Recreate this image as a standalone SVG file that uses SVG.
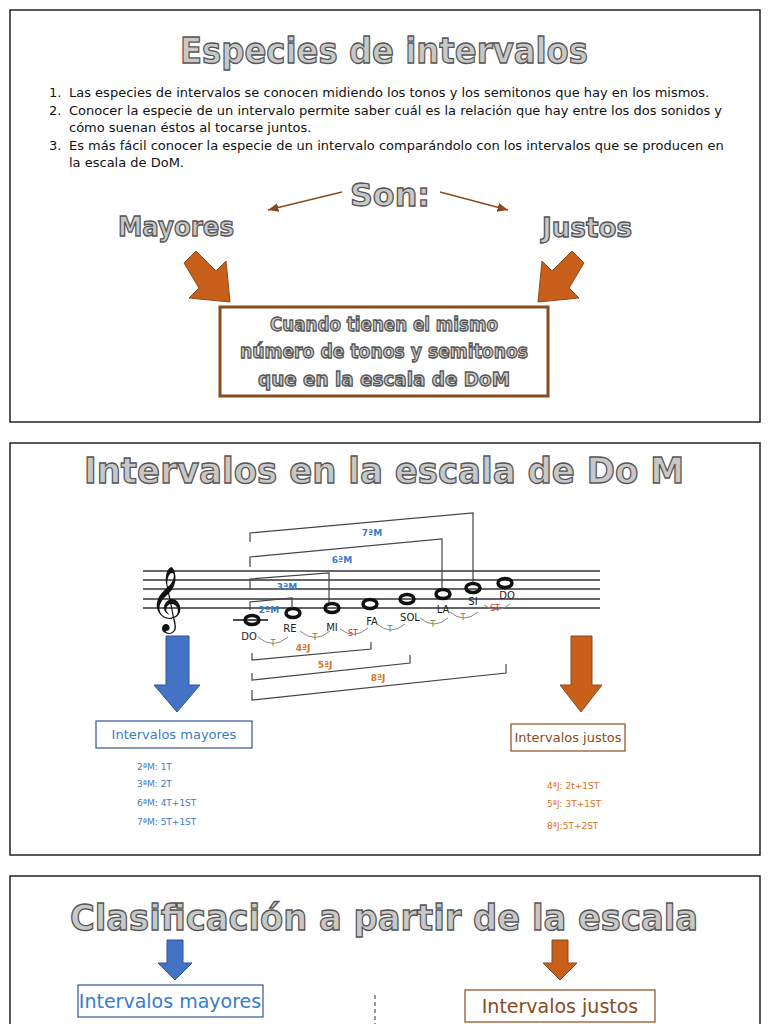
<svg xmlns="http://www.w3.org/2000/svg" width="768" height="1024" viewBox="0 0 768 1024">
<style>
.panel{fill:#fff;stroke:#222;stroke-width:1.5}
.title{font-family:"DejaVu Sans",sans-serif;font-weight:bold;fill:#c8c8c8;stroke:#555;stroke-width:1.3;text-anchor:middle}
.body{font-family:"DejaVu Sans",sans-serif;font-size:13px;fill:#111}
.staff{stroke:#333;stroke-width:1.3}
.br{fill:none;stroke:#444;stroke-width:1.2}
.note{fill:none;stroke:#111;stroke-width:3.5}
.nl{font-family:"DejaVu Sans",sans-serif;font-size:10px;fill:#222;text-anchor:middle}
.bl{font-family:"DejaVu Sans",sans-serif;font-size:9px;font-weight:bold;fill:#3a7cc8;text-anchor:middle}
.or{font-family:"DejaVu Sans",sans-serif;font-size:9px;font-weight:bold;fill:#d8741e;text-anchor:middle}
.t{font-family:"DejaVu Sans",sans-serif;font-size:8px;fill:#5a8a4a;text-anchor:middle}
.st{font-family:"DejaVu Sans",sans-serif;font-size:8px;fill:#e03030;text-anchor:middle}
.arc{fill:none;stroke:#888;stroke-width:1}
.lb{font-family:"DejaVu Sans",sans-serif;font-size:9px;fill:#3a7cc8}
.lo{font-family:"DejaVu Sans",sans-serif;font-size:9px;fill:#d8741e}
</style>
<defs>
<marker id="ah" markerWidth="8" markerHeight="8" refX="7" refY="4" orient="auto"><path d="M0,1 L7,4 L0,7 Z" fill="#8a4a20"/></marker>
</defs>
<rect width="768" height="1024" fill="#fff"/>
<g id="panel1">
<rect class="panel" x="10" y="10" width="750" height="412"/>
<text class="title" x="384" y="63" font-size="36" textLength="408" lengthAdjust="spacingAndGlyphs">Especies de intervalos</text>
<text class="body" x="49" y="97">1.</text><text class="body" x="69" y="97">Las especies de intervalos se conocen midiendo los tonos y los semitonos que hay en los mismos.</text>
<text class="body" x="49" y="115">2.</text><text class="body" x="69" y="115">Conocer la especie de un intervalo permite saber cuál es la relación que hay entre los dos sonidos y</text>
<text class="body" x="69" y="132">cómo suenan éstos al tocarse juntos.</text>
<text class="body" x="49" y="150">3.</text><text class="body" x="69" y="150">Es más fácil conocer la especie de un intervalo comparándolo con los intervalos que se producen en</text>
<text class="body" x="69" y="167">la escala de DoM.</text>
<text class="title" x="390" y="206" font-size="32" textLength="80" lengthAdjust="spacingAndGlyphs">Son:</text>
<text class="title" x="176" y="236" font-size="26" textLength="116" lengthAdjust="spacingAndGlyphs">Mayores</text>
<text class="title" x="587" y="237" font-size="26" textLength="90" lengthAdjust="spacingAndGlyphs">Justos</text>
</g>
<g id="box1">
<rect x="220" y="307" width="328" height="89" fill="#fff" stroke="#8a4a20" stroke-width="3"/>
<text class="title" x="384" y="331" font-size="19" textLength="228" lengthAdjust="spacingAndGlyphs">Cuando tienen el mismo</text>
<text class="title" x="384" y="358" font-size="19" textLength="288" lengthAdjust="spacingAndGlyphs">número de tonos y semitonos</text>
<text class="title" x="384" y="386" font-size="19" textLength="252" lengthAdjust="spacingAndGlyphs">que en la escala de DoM</text>
</g>
<g id="panel2">
<rect class="panel" x="10" y="443" width="750" height="412"/>
<text class="title" x="384" y="483" font-size="36" textLength="600" lengthAdjust="spacingAndGlyphs">Intervalos en la escala de Do M</text>
<g id="staff">
<line class="staff" x1="143" y1="571" x2="600" y2="571"/>
<line class="staff" x1="143" y1="580" x2="600" y2="580"/>
<line class="staff" x1="143" y1="589" x2="600" y2="589"/>
<line class="staff" x1="143" y1="599" x2="600" y2="599"/>
<line class="staff" x1="143" y1="608" x2="600" y2="608"/>
<text x="166" y="618" font-family="DejaVu Sans,sans-serif" font-size="56" text-anchor="middle" fill="#111">𝄞</text>
<line x1="233" y1="620" x2="268" y2="620" stroke="#111" stroke-width="1.5"/>
<ellipse class="note" cx="252" cy="620" rx="7" ry="4.5"/>
<ellipse class="note" cx="293" cy="613" rx="7" ry="4.5"/>
<ellipse class="note" cx="332" cy="608" rx="7" ry="4.5"/>
<ellipse class="note" cx="370" cy="604" rx="7" ry="4.5"/>
<ellipse class="note" cx="407" cy="599" rx="7" ry="4.5"/>
<ellipse class="note" cx="443" cy="594" rx="7" ry="4.5"/>
<ellipse class="note" cx="473" cy="588" rx="7" ry="4.5"/>
<ellipse class="note" cx="505" cy="583" rx="7" ry="4.5"/>
<text class="nl" x="249" y="640">DO</text><text class="nl" x="290" y="632">RE</text><text class="nl" x="332" y="631">MI</text>
<text class="nl" x="372" y="625">FA</text><text class="nl" x="410" y="621">SOL</text><text class="nl" x="443" y="613">LA</text>
<text class="nl" x="473" y="605">SI</text><text class="nl" x="507" y="599">DO</text>
<path class="arc" d="M258,637 Q273,650 288,637"/><text class="t" x="273" y="646">T</text>
<path class="arc" d="M300,631 Q315,644 330,631"/><text class="t" x="315" y="640">T</text>
<path class="arc" d="M340,629 Q354,640 368,628"/><text class="st" x="353" y="636">ST</text>
<path class="arc" d="M377,624 Q391,636 405,624"/><text class="t" x="390" y="632">T</text>
<path class="arc" d="M420,618 Q434,630 448,618"/><text class="t" x="433" y="627">T</text>
<path class="arc" d="M450,612 Q464,624 478,612"/><text class="t" x="463" y="620">T</text>
<path class="arc" d="M484,605 Q497,615 510,604"/><text class="st" x="495" y="611">ST</text>
<path class="br" d="M250,542 V533 L473,513 V583"/><text class="bl" x="372" y="536">7ªM</text>
<path class="br" d="M250,567 V557 L442,539 V589"/><text class="bl" x="342" y="563">6ªM</text>
<path class="br" d="M250,589 V579 L329,573 V603"/><text class="bl" x="287" y="590">3ªM</text>
<path class="br" d="M250,610 V602 L292,598 V608"/><text class="bl" x="269" y="613">2ªM</text>
<path class="br" d="M252,653 V660 L371,649 V642"/><text class="or" x="303" y="651">4ªJ</text>
<path class="br" d="M252,673 V680 L410,663 V655"/><text class="or" x="325" y="668">5ªJ</text>
<path class="br" d="M252,690 V700 L506,673 V664"/><text class="or" x="378" y="681">8ªJ</text>
</g>
</g>
<g id="mayores2">
<rect x="96" y="721" width="156" height="27" fill="#fff" stroke="#2f5597" stroke-width="1.2"/>
<text x="174" y="739" font-family="DejaVu Sans,sans-serif" font-size="13" fill="#3a7cc8" text-anchor="middle">Intervalos mayores</text>
<text class="lb" x="137" y="770">2ªM: 1T</text>
<text class="lb" x="137" y="787">3ªM: 2T</text>
<text class="lb" x="137" y="806">6ªM: 4T+1ST</text>
<text class="lb" x="137" y="825">7ªM: 5T+1ST</text>
</g>
<g id="justos2">
<rect x="511" y="724" width="114" height="27" fill="#fff" stroke="#8a4a20" stroke-width="1.2"/>
<text x="568" y="742" font-family="DejaVu Sans,sans-serif" font-size="13" fill="#8a4a20" text-anchor="middle">Intervalos justos</text>
<text class="lo" x="547" y="789">4ªJ: 2t+1ST</text>
<text class="lo" x="547" y="807">5ªJ: 3T+1ST</text>
<text class="lo" x="547" y="829">8ªJ:5T+2ST</text>
</g>
<g id="panel3">
<rect class="panel" x="10" y="876" width="750" height="160"/>
<text class="title" x="384" y="930" font-size="36" textLength="628" lengthAdjust="spacingAndGlyphs">Clasificación a partir de la escala</text>
</g>
<g id="mayores3">
<rect x="78" y="985" width="185" height="32" fill="#fff" stroke="#2f5597" stroke-width="1.2"/>
<text x="170" y="1008" font-family="DejaVu Sans,sans-serif" font-size="19" fill="#3a7cc8" text-anchor="middle">Intervalos mayores</text>
</g>
<g id="justos3">
<rect x="465" y="990" width="190" height="32" fill="#fff" stroke="#8a4a20" stroke-width="1.2"/>
<text x="560" y="1013" font-family="DejaVu Sans,sans-serif" font-size="19" fill="#8a4a20" text-anchor="middle">Intervalos justos</text>
</g>
<g id="connectors">
<line x1="342" y1="192" x2="268" y2="210" stroke="#8a4a20" stroke-width="1.5" marker-end="url(#ah)"/>
<line x1="440" y1="192" x2="508" y2="210" stroke="#8a4a20" stroke-width="1.5" marker-end="url(#ah)"/>
<polygon points="184,263 196,251 216,271 226,261 230,302 189,298 199,288" fill="#c8601c" stroke="#8a4a20"/>
<polygon points="584,263 572,251 552,271 542,261 538,302 579,298 569,288" fill="#c8601c" stroke="#8a4a20"/>
<polygon points="166,636 189,636 189,685 200,685 177,712 154,685 166,685" fill="#4472c4" stroke="#2f5597"/>
<polygon points="571,636 592,636 592,685 602,685 581,712 560,685 571,685" fill="#c8601c" stroke="#8a4a20"/>
<polygon points="167,940 183,940 183,963 192,963 175,980 158,963 167,963" fill="#4472c4" stroke="#2f5597"/>
<polygon points="552,940 568,940 568,963 577,963 560,980 543,963 552,963" fill="#c8601c" stroke="#8a4a20"/>
<line x1="375" y1="995" x2="375" y2="1024" stroke="#333" stroke-dasharray="4,3"/>
</g>
</svg>
